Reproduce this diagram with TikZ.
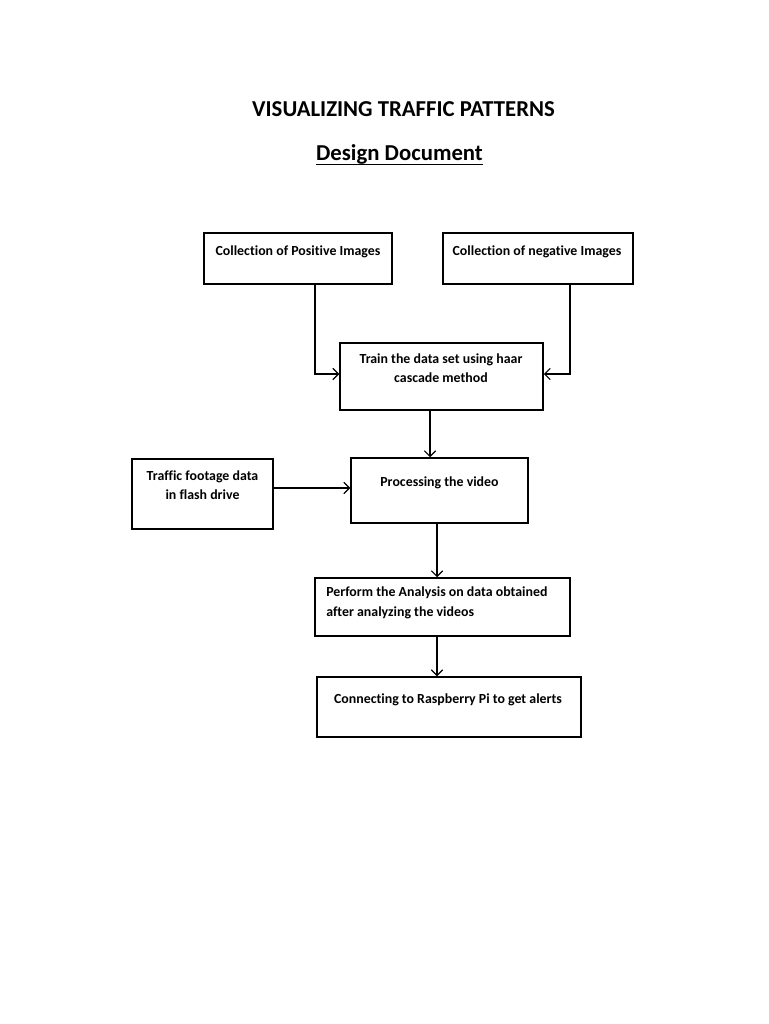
\documentclass[tikz,border=0pt]{standalone}
\usepackage{fontspec}
\setmainfont{Carlito}[Ligatures=NoCommon]
\usetikzlibrary{arrows.meta}
\begin{document}
\begin{tikzpicture}[x=0.8pt,y=-0.8pt,
  box/.style={draw, line width=1.2pt, inner sep=0pt},
  txt/.style={inner sep=0pt, font=\bfseries\fontsize{11.1}{15.2}\selectfont},
  ttl/.style={inner sep=0pt, anchor=base, font=\bfseries\fontsize{18.2}{22}\selectfont},
  arr/.style={line width=0.9pt, -{Straight Barb[length=4.5pt,width=9pt,line width=0.9pt]}}]
\useasboundingbox[fill=white] (0,0) rectangle (768,1024);
% titles
\node[ttl] (title) at (403.5,116.5) {VISUALIZING TRAFFIC PATTERNS};
\node[ttl] (sub) at (399.5,160.5) {Design Document};
\draw[line width=1.2pt] ([yshift=-3.4pt]sub.base west) -- ([yshift=-3.4pt]sub.base east);
% boxes
\node[box, minimum width=150.4pt, minimum height=40.8pt] (pos) at (298,258.5) {};
\node[box, minimum width=152pt, minimum height=40.8pt] (neg) at (538,258.5) {};
\node[box, minimum width=162.4pt, minimum height=53.6pt] (train) at (441.5,376.5) {};
\node[box, minimum width=112.8pt, minimum height=56pt] (traffic) at (202.5,494) {};
\node[box, minimum width=141.6pt, minimum height=52pt] (proc) at (439.5,490.5) {};
\node[box, minimum width=204pt, minimum height=46.4pt] (ana) at (442.5,607) {};
\node[box, minimum width=211.2pt, minimum height=48pt] (conn) at (449,707) {};
% texts
\node[txt, anchor=base] (tpos) at (298,255) {Collection of Positive Images};
\node[txt, anchor=base] (tneg) at (537,255) {Collection of negative Images};
\node[txt, anchor=base] (ttrain1) at (441,363) {Train the data set using haar};
\node[txt, anchor=base] (ttrain2) at (441,382) {cascade method};
\node[txt, anchor=base] (ttraf1) at (202.5,480) {Traffic footage data};
\node[txt, anchor=base] (ttraf2) at (202.5,499) {in flash drive};
\node[txt, anchor=base] (tproc) at (439.5,486) {Processing the video};
\node[txt, anchor=base west] (tana1) at (326,596) {Perform the Analysis on data obtained};
\node[txt, anchor=base west] (tana2) at (326,616) {after analyzing the videos};
\node[txt, anchor=base] (tconn) at (448,703) {Connecting to Raspberry Pi to get alerts};
% connectors
\draw[arr] ([xshift=13.6pt]pos.south) |- ([yshift=2pt]train.west);
\draw[arr] ([xshift=25.6pt]neg.south) |- ([yshift=2pt]train.east);
\draw[arr] ([xshift=-9.2pt]train.south) -- ([xshift=-9.2pt]train.south |- proc.north);
\draw[arr] ([yshift=4.8pt]traffic.east) -- ([yshift=4.8pt]traffic.east -| proc.west);
\draw[arr] ([xshift=-2pt]proc.south) -- ([xshift=-2pt]proc.south |- ana.north);
\draw[arr] ([xshift=-4.4pt]ana.south) -- ([xshift=-4.4pt]ana.south |- conn.north);
\end{tikzpicture}
\end{document}
